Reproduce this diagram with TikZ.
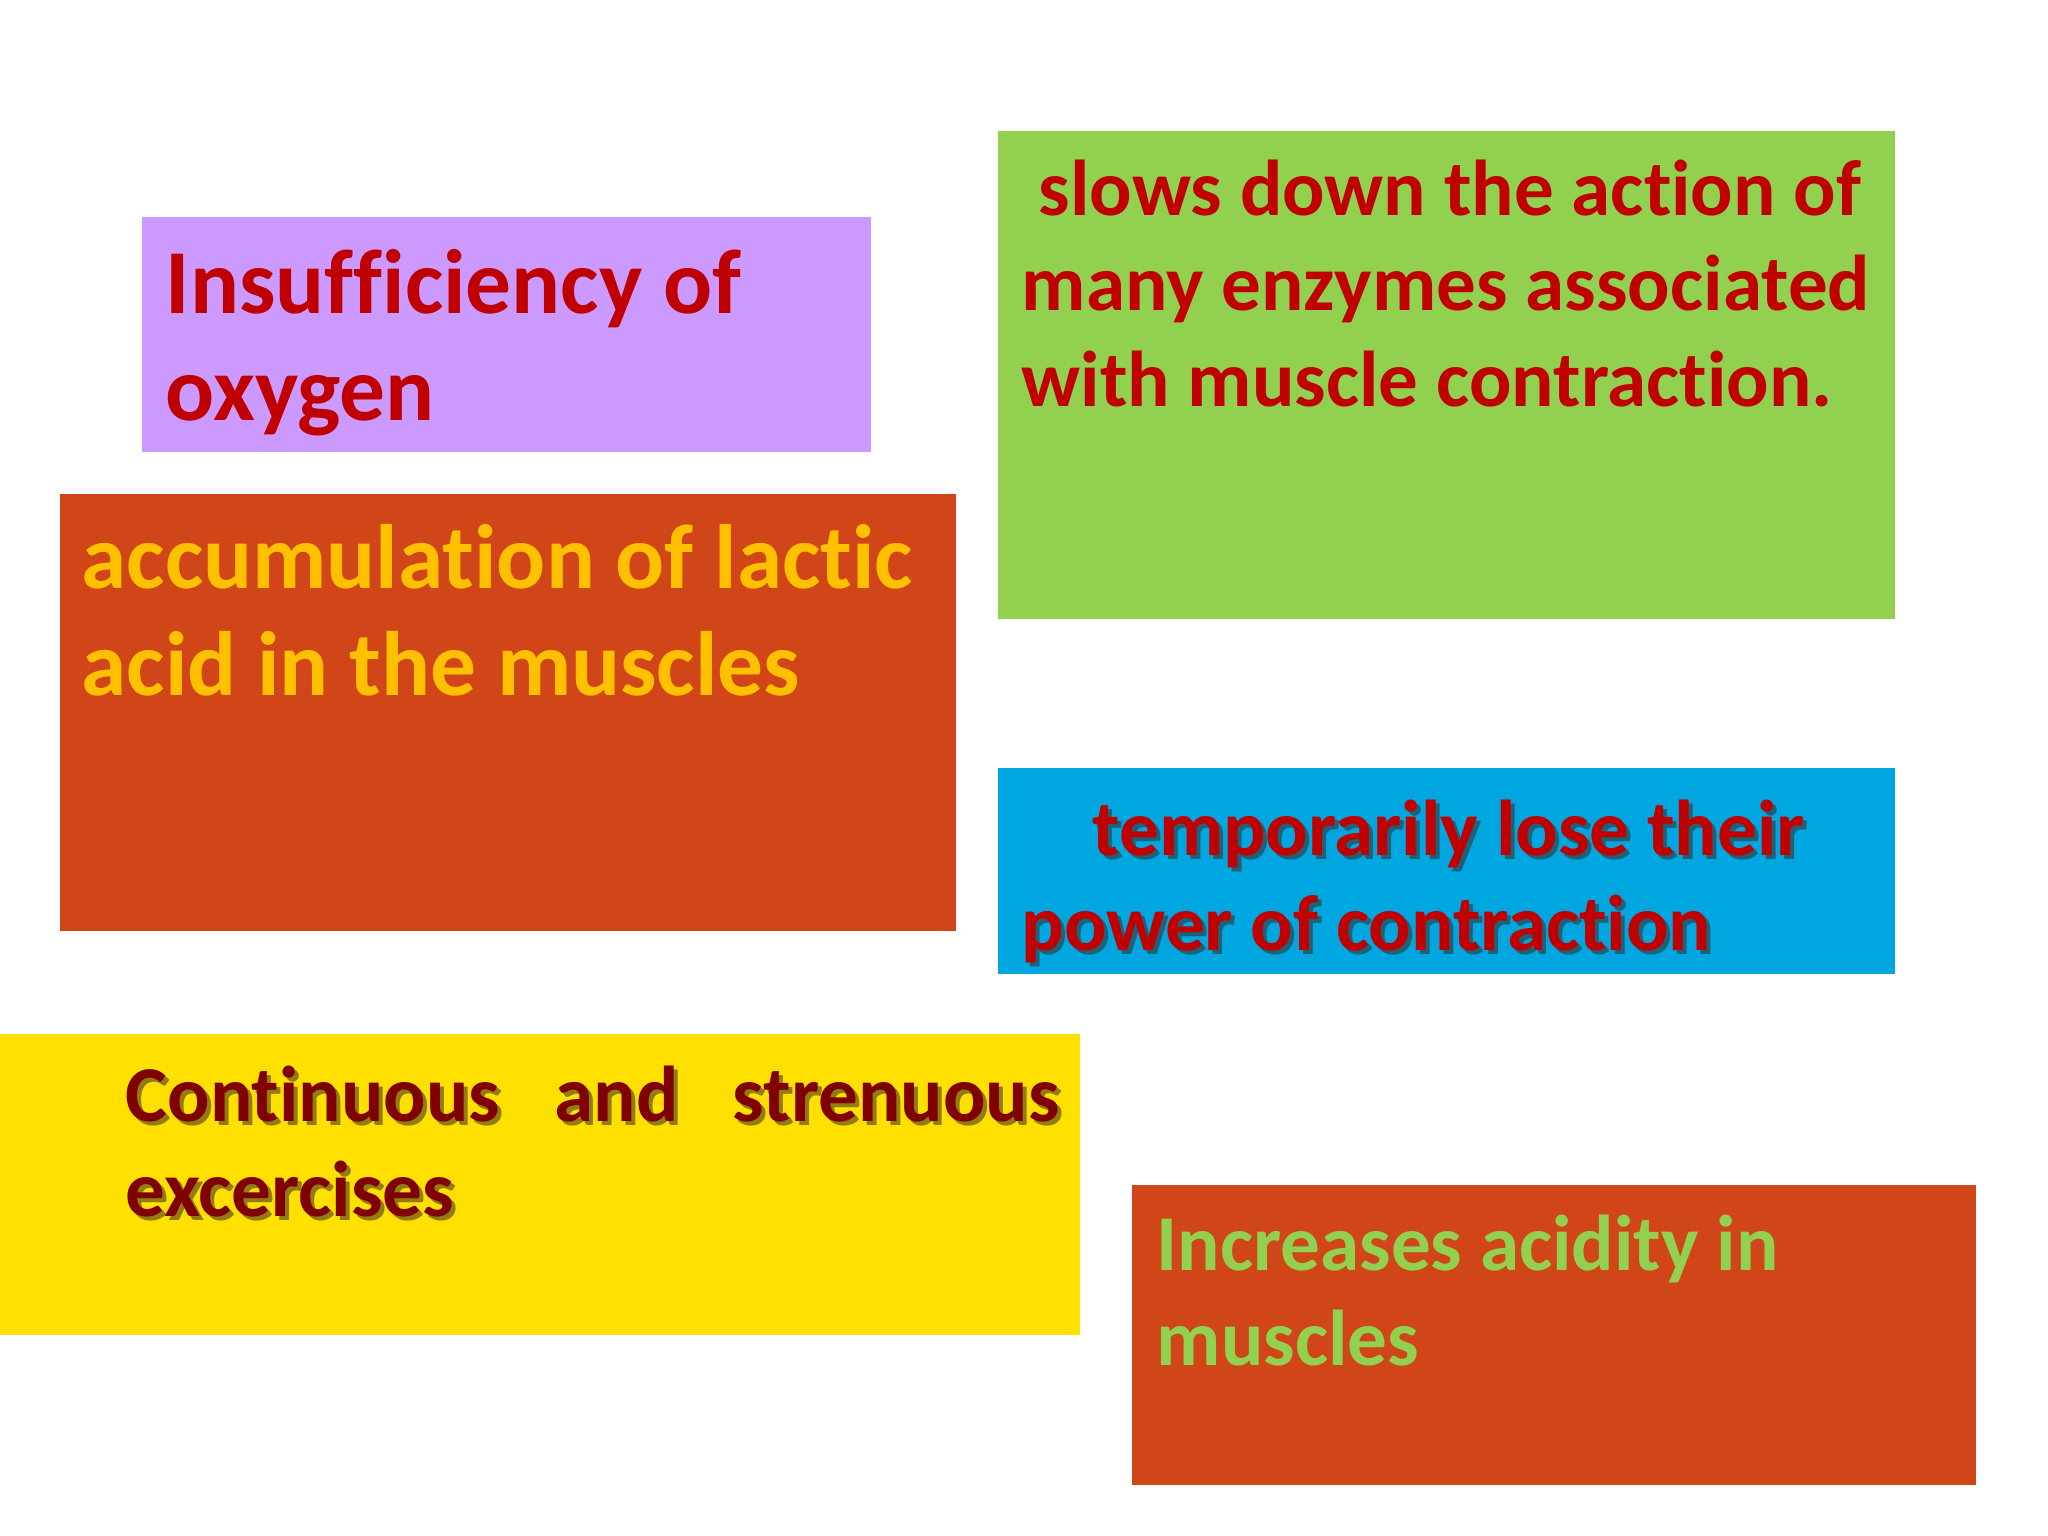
\documentclass[tikz,border=0pt]{standalone}
\usepackage{fontspec}
\setmainfont{Carlito}[Ligatures=NoCommon]
\usepackage{tikz}
\usetikzlibrary{positioning}
\definecolor{lilac}{HTML}{CC99FF}
\definecolor{rust}{HTML}{D14619}
\definecolor{leaf}{HTML}{92D050}
\definecolor{sky}{HTML}{00A6E0}
\definecolor{lemon}{HTML}{FFE000}
\definecolor{crimson}{HTML}{C00000}
\definecolor{maroon}{HTML}{800000}
\definecolor{amber}{HTML}{FFC000}
\definecolor{shade}{HTML}{3A2A20}
\tikzset{
  card/.style={anchor=north west,inner sep=0pt,outer sep=0pt},
  bigtext/.style={anchor=base west,inner sep=0pt,align=flush left,
                  font=\bfseries\fontsize{26pt}{30.7pt}\selectfont},
  midtext/.style={anchor=base west,inner sep=0pt,align=flush left,
                  font=\bfseries\fontsize{22.5pt}{27.2pt}\selectfont},
  dropshadow/.style={text=shade,opacity=0.55}
}
\begin{document}
\begin{tikzpicture}[x=0.01cm,y=-0.01cm]
  \useasboundingbox[fill=white] (0,0) rectangle (2048,1536);

  % Left column
  \node[card,fill=lilac,minimum width=7.29cm,minimum height=2.35cm]
    (oxybox) at (142,217) {};
  \node[bigtext,text=crimson,text width=7cm]
    (oxytext) at ([shift={(23,96)}]oxybox.north west)
    {Insufficiency of\\oxygen};

  \node[card,fill=rust,minimum width=8.95cm,minimum height=4.37cm]
    (lacticbox) at (60,494) {};
  \node[bigtext,text=amber,text width=8.7cm]
    (lactictext) at ([shift={(21,94)}]lacticbox.north west)
    {accumulation of lactic\\acid in the muscles};

  \node[card,fill=lemon,minimum width=10.79cm,minimum height=3.01cm]
    (exercisebox) at (0,1034) {};
  \node[midtext,dropshadow,text width=9.33cm]
    (exerciseshadow) at ([shift={(129,91)}]exercisebox.north west)
    {Continuous\hfill and\hfill strenuous\\excercises};
  \node[midtext,text=maroon,text width=9.33cm]
    (exercisetext) at ([shift={(125,87)}]exercisebox.north west)
    {Continuous\hfill and\hfill strenuous\\excercises};

  % Right column
  \node[card,fill=leaf,minimum width=8.96cm,minimum height=4.88cm]
    (enzymebox) at (998,131) {};
  \node[midtext,text=crimson,text width=8.8cm]
    (enzymetext) at ([shift={(23,84)}]enzymebox.north west)
    {\hspace*{0.17cm}slows down the action of\\many enzymes associated\\
     with muscle contraction.};

  \node[card,fill=sky,minimum width=8.96cm,minimum height=2.06cm]
    (powerbox) at (998,768) {};
  \node[midtext,dropshadow,text width=8.8cm]
    (powershadow) at ([shift={(27,91)}]powerbox.north west)
    {\hspace*{0.71cm}temporarily lose their\\power of contraction};
  \node[midtext,text=crimson,text width=8.8cm]
    (powertext) at ([shift={(23,87)}]powerbox.north west)
    {\hspace*{0.71cm}temporarily lose their\\power of contraction};

  \node[card,fill=rust,minimum width=8.43cm,minimum height=3.00cm]
    (aciditybox) at (1132,1185) {};
  \node[midtext,text=leaf,text width=8.2cm]
    (aciditytext) at ([shift={(24,85)}]aciditybox.north west)
    {Increases acidity in\\muscles};
\end{tikzpicture}
\end{document}
